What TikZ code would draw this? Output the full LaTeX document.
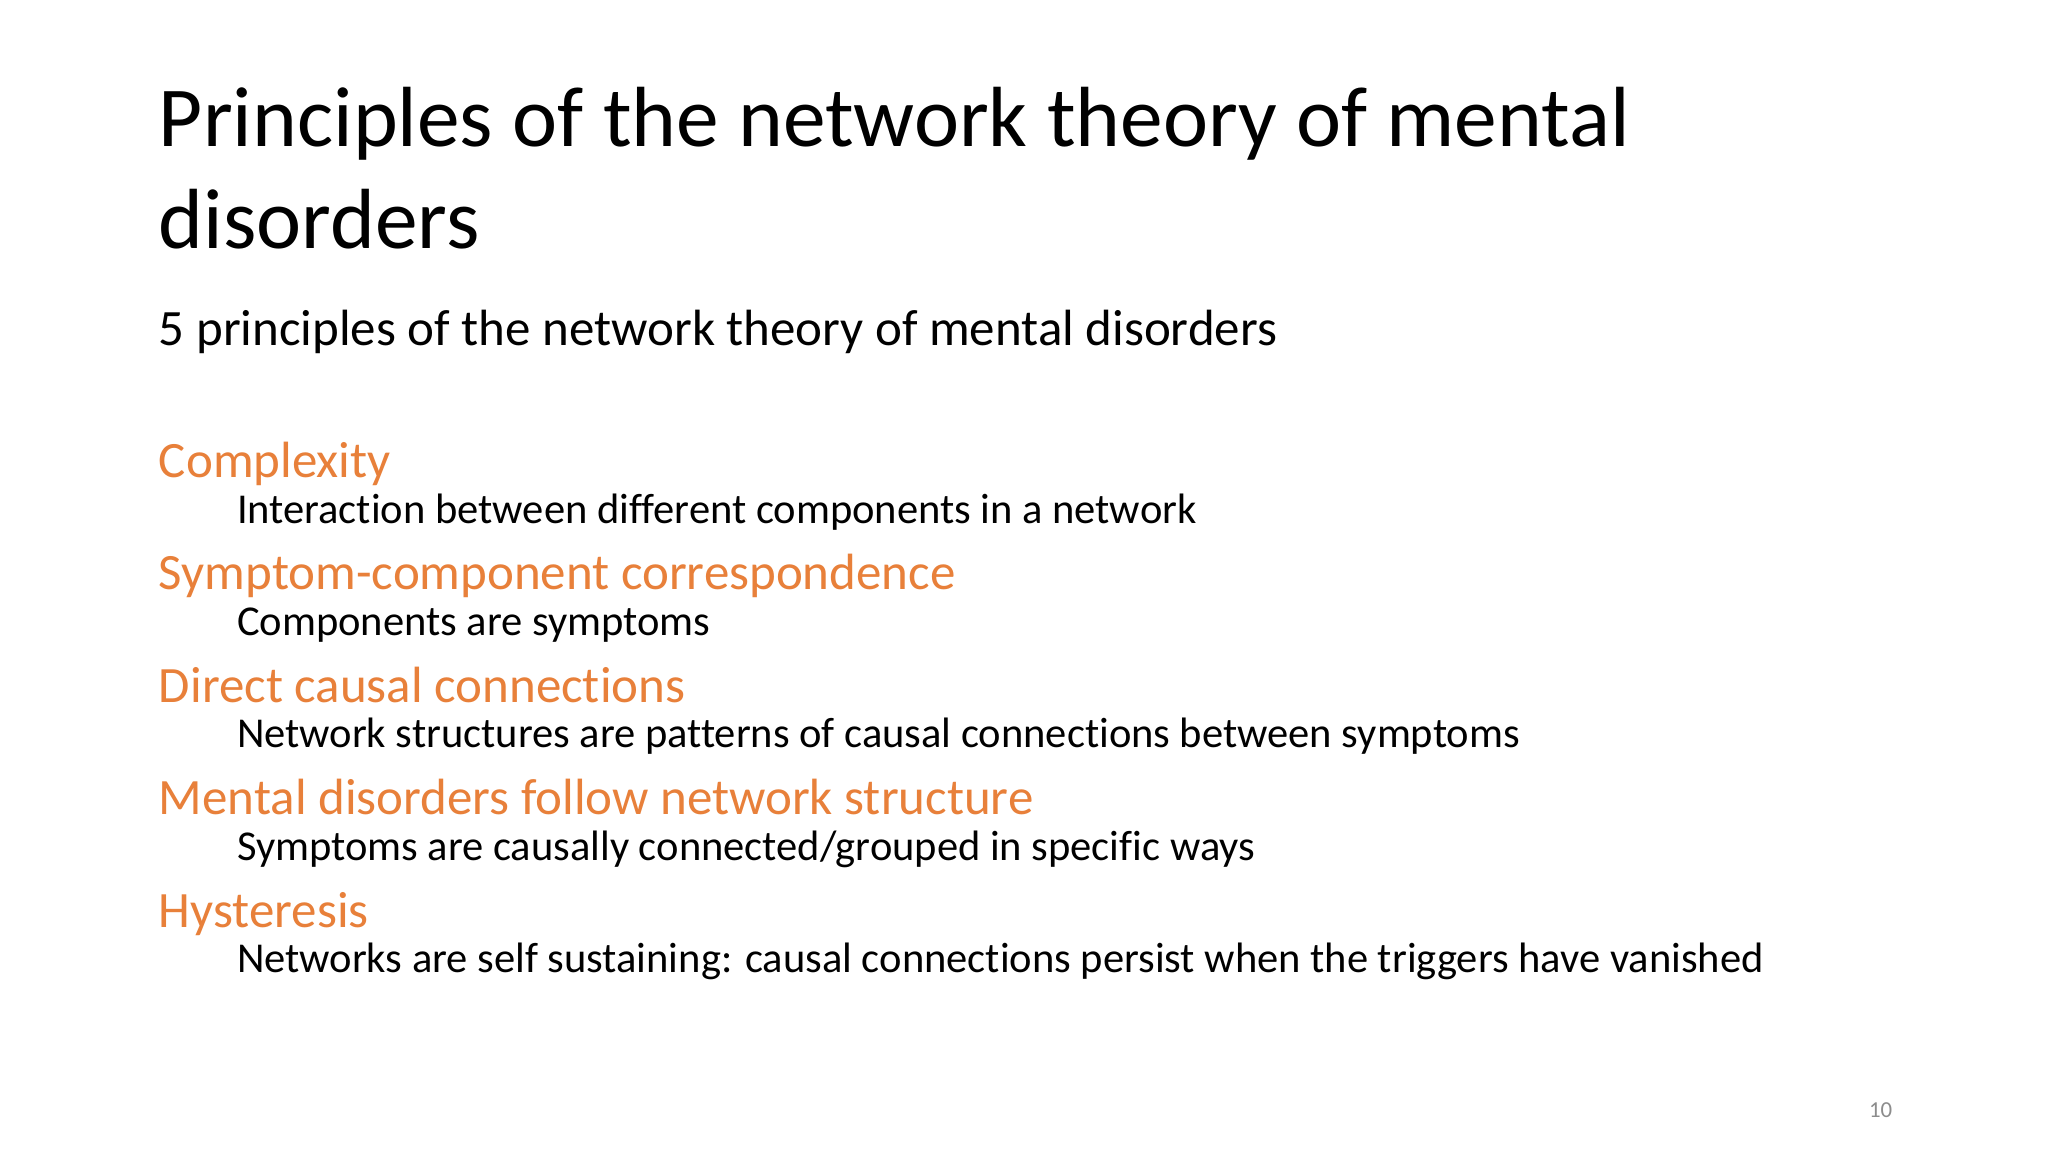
\documentclass[tikz,border=0pt]{standalone}
\usepackage{fontspec}
\setmainfont[Ligatures=CommonOff]{Carlito}
\definecolor{orng}{HTML}{E8803A}
\definecolor{pgn}{HTML}{8C8C8C}
\begin{document}
\begin{tikzpicture}[x=1cm,y=1cm,
  txt/.style={anchor=base west,inner sep=0pt,outer sep=0pt},
  head/.style={txt,text=orng,font=\fontsize{14.5}{16}\selectfont},
  sub/.style={txt,font=\fontsize{12.1}{14}\selectfont}]
\useasboundingbox (0,0) rectangle (20.48,11.52);
\fill[white] (0,0) rectangle (20.48,11.52);
\node[txt,font=\fontsize{24.3}{28}\selectfont] (t1) at (1.59,10.05) {Principles of the network theory of mental};
\node[txt,font=\fontsize{24.3}{28}\selectfont] (t2) at (1.59,9.03) {disorders};
\node[txt,font=\fontsize{14.5}{16}\selectfont] (st) at (1.59,8.06) {5 principles of the network theory of mental disorders};
\node[head] (h1) at (1.59,6.74) {Complexity};
\node[sub] (s1) at (2.37,6.28) {Interaction between different components in a network};
\node[head] (h2) at (1.59,5.62) {Symptom-component correspondence};
\node[sub] (s2) at (2.37,5.16) {Components are symptoms};
\node[head] (h3) at (1.59,4.49) {Direct causal connections};
\node[sub] (s3) at (2.37,4.04) {Network structures are patterns of causal connections between symptoms};
\node[head] (h4) at (1.59,3.37) {Mental disorders follow network structure};
\node[sub] (s4) at (2.37,2.91) {Symptoms are causally connected/grouped in specific ways};
\node[head] (h5) at (1.59,2.24) {Hysteresis};
\node[sub] (s5) at (2.37,1.79) {Networks are self sustaining: causal connections persist when the triggers have vanished};
\node[anchor=base east,inner sep=0pt,text=pgn,font=\fontsize{6.5}{8}\selectfont] (pn) at (18.93,0.34) {10};
\end{tikzpicture}
\end{document}
